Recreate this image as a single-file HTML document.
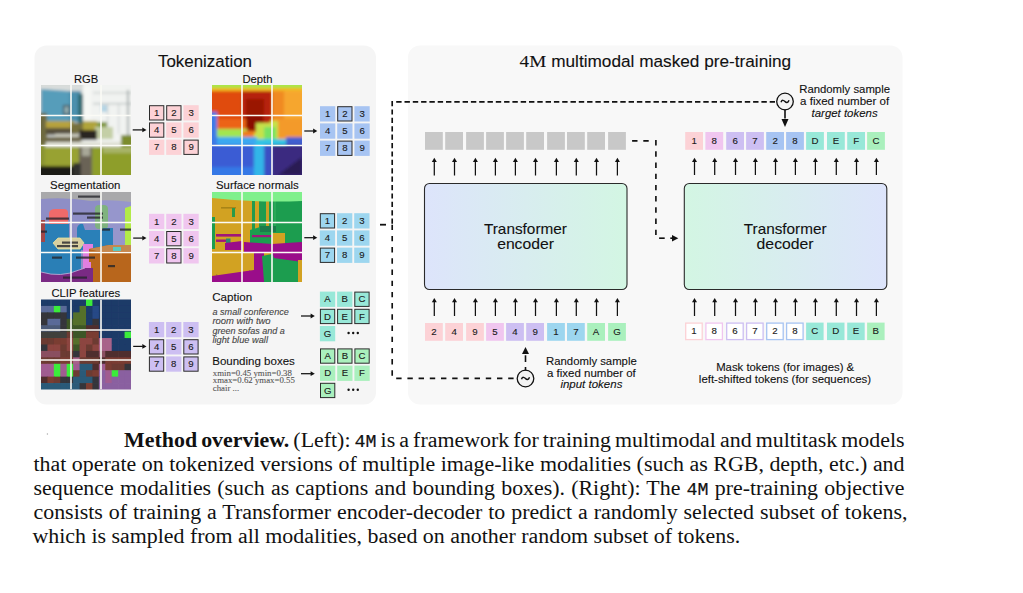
<!DOCTYPE html>
<html><head><meta charset="utf-8"><style>
html,body{margin:0;padding:0;background:#fff;width:1023px;height:593px;overflow:hidden}
svg{position:absolute;left:0;top:0}
svg text{font-family:"Liberation Sans", sans-serif}
.cl{position:absolute;left:33.5px;width:871px;height:24.0px;font-family:"Liberation Serif",serif;font-size:21.9px;line-height:24.0px;color:#111}
.j{text-align:justify;text-align-last:justify;word-spacing:-3px}
.mono{font-family:"Liberation Mono",monospace;font-size:18.3px;-webkit-text-stroke:0.2px #111}
</style></head><body>
<svg width="1023" height="593" viewBox="0 0 1023 593">
<defs>
<filter id="bl" x="-20%" y="-20%" width="140%" height="140%"><feGaussianBlur stdDeviation="1.4"/></filter>
<filter id="bl2" x="-20%" y="-20%" width="140%" height="140%"><feGaussianBlur stdDeviation="0.6"/></filter>
<linearGradient id="genc" x1="0" x2="1" y1="0" y2="0"><stop offset="0" stop-color="#dde4fb"/><stop offset="1" stop-color="#d3f6e3"/></linearGradient>
<linearGradient id="gdec" x1="0" x2="1" y1="0" y2="0"><stop offset="0" stop-color="#d3f6e3"/><stop offset="1" stop-color="#dde4fb"/></linearGradient>
<clipPath id="cimg"><rect x="0" y="0" width="90" height="90"/></clipPath>
</defs>

<rect x="34.5" y="45.5" width="341.5" height="359" rx="12" fill="#f5f5f5"/>
<rect x="408" y="45.5" width="494.5" height="359" rx="12" fill="#f8f8f8"/>
<circle cx="47.4" cy="434" r="0.7" fill="#aaa"/>
<text x="205" y="66.9" font-size="16.2" text-anchor="middle" fill="#111" textLength="94" lengthAdjust="spacingAndGlyphs" stroke="#111" stroke-width="0.1">Tokenization</text>
<text x="86.05" y="82.7" font-size="10.7" text-anchor="middle" fill="#111" textLength="24.3" lengthAdjust="spacingAndGlyphs" stroke="#111" stroke-width="0.1">RGB</text>
<text x="257.45" y="82.6" font-size="10.7" text-anchor="middle" fill="#111" textLength="30" lengthAdjust="spacingAndGlyphs" stroke="#111" stroke-width="0.1">Depth</text>
<text x="85.2" y="188.9" font-size="10.7" text-anchor="middle" fill="#111" textLength="70.3" lengthAdjust="spacingAndGlyphs" stroke="#111" stroke-width="0.1">Segmentation</text>
<text x="257.35" y="188.9" font-size="10.7" text-anchor="middle" fill="#111" textLength="82.6" lengthAdjust="spacingAndGlyphs" stroke="#111" stroke-width="0.1">Surface normals</text>
<text x="85.75" y="296.9" font-size="10.7" text-anchor="middle" fill="#111" textLength="68.7" lengthAdjust="spacingAndGlyphs" stroke="#111" stroke-width="0.1">CLIP features</text>
<text x="212.2" y="300.9" font-size="10.8" fill="#111" textLength="40" lengthAdjust="spacingAndGlyphs" stroke="#111" stroke-width="0.1">Caption</text>
<text x="212.2" y="365" font-size="10.8" fill="#111" textLength="82.7" lengthAdjust="spacingAndGlyphs" stroke="#111" stroke-width="0.1">Bounding boxes</text>
<text x="212.4" y="314.5" font-size="8.9" fill="#444" textLength="76.5" lengthAdjust="spacingAndGlyphs" font-style="italic" stroke="#444" stroke-width="0.1">a small conference</text>
<text x="212.4" y="324.1" font-size="8.9" fill="#444" textLength="58.2" lengthAdjust="spacingAndGlyphs" font-style="italic" stroke="#444" stroke-width="0.1">room with two</text>
<text x="212.4" y="333.7" font-size="8.9" fill="#444" textLength="72.5" lengthAdjust="spacingAndGlyphs" font-style="italic" stroke="#444" stroke-width="0.1">green sofas and a</text>
<text x="212.4" y="343.3" font-size="8.9" fill="#444" textLength="55.6" lengthAdjust="spacingAndGlyphs" font-style="italic" stroke="#444" stroke-width="0.1">light blue wall</text>
<text x="212.8" y="375.6" font-size="8.8" fill="#555" style="font-family:'Liberation Serif',serif" stroke="#555" stroke-width="0.1">xmin=0.45 ymin=0.38</text>
<text x="212.8" y="383.2" font-size="8.8" fill="#555" style="font-family:'Liberation Serif',serif" stroke="#555" stroke-width="0.1">xmax=0.62 ymax=0.55</text>
<text x="212.8" y="390.8" font-size="8.8" fill="#555" style="font-family:'Liberation Serif',serif" stroke="#555" stroke-width="0.1">chair ...</text>
<svg x="41" y="85" width="90" height="90" viewBox="0 0 90 90" overflow="hidden"><g filter="url(#bl)">
<rect x="-6.00" y="-6.00" width="102.00" height="102.00" fill="#d3d7d4"/>
<path d="M0,0 H90 V6 H40 L0,4 Z" fill="#d9dddc"/>
<path d="M0,4 L40,7 V37 H0 Z" fill="#579dba"/>
<rect x="28.00" y="6.00" width="12.00" height="31.00" fill="#4b90ad"/>
<rect x="37.00" y="9.00" width="5.00" height="30.00" fill="#2f6a72"/>
<rect x="22.00" y="20.00" width="7.00" height="10.00" fill="#3e4e54"/>
<rect x="23.50" y="21.50" width="4.00" height="7.00" fill="#98b4b8"/>
<rect x="42.00" y="-6.00" width="54.00" height="63.00" fill="#f1f3f1"/>
<rect x="42.00" y="2.00" width="8.00" height="44.00" fill="#f6f7f4"/>
<rect x="52.00" y="7.00" width="44.00" height="1.50" fill="#cfd4d2"/>
<rect x="52.00" y="18.00" width="44.00" height="1.30" fill="#b9c0c0"/>
<rect x="66.00" y="19.00" width="1.20" height="30.00" fill="#ccd2d2"/>
<rect x="77.00" y="19.00" width="1.20" height="30.00" fill="#ccd2d2"/>
<rect x="86.00" y="5.00" width="1.80" height="52.00" fill="#a0a8a8"/>
<rect x="60.00" y="20.00" width="6.00" height="7.00" fill="#b4d4e4"/>
<rect x="-6.00" y="28.00" width="12.00" height="32.00" fill="#6e6a40"/>
<rect x="5.00" y="36.00" width="28.00" height="8.00" fill="#b6a23c"/>
<rect x="5.00" y="43.00" width="32.00" height="7.00" fill="#56503e"/>
<rect x="14.00" y="49.00" width="26.00" height="4.00" fill="#cfcfc2"/>
<rect x="30.00" y="38.00" width="14.00" height="10.00" fill="#76703e"/>
<rect x="42.00" y="36.00" width="14.00" height="9.00" fill="#b0a43a"/>
<rect x="56.00" y="37.00" width="10.00" height="7.00" fill="#80983a"/>
<rect x="54.00" y="42.00" width="18.00" height="12.00" fill="#c4cfa6"/>
<rect x="38.00" y="45.00" width="18.00" height="10.00" fill="#2c2622"/>
<rect x="6.00" y="52.00" width="34.00" height="6.00" fill="#6a6446"/>
<rect x="5.00" y="57.00" width="91.00" height="5.00" fill="#dedfd4"/>
<rect x="-6.00" y="62.00" width="46.00" height="19.00" fill="#98a232"/>
<rect x="-6.00" y="60.00" width="10.00" height="24.00" fill="#8a9430"/>
<rect x="80.00" y="50.00" width="16.00" height="12.00" fill="#7c8c2e"/>
<rect x="50.00" y="62.00" width="46.00" height="34.00" fill="#8e9e2c"/>
<rect x="62.00" y="62.00" width="34.00" height="6.00" fill="#a8b468"/>
<rect x="38.00" y="62.00" width="13.00" height="34.00" fill="#6a6456"/>
<rect x="41.00" y="62.00" width="8.00" height="9.00" fill="#a8a898"/>
<rect x="-6.00" y="81.00" width="44.00" height="15.00" fill="#1c1c19"/>
<rect x="32.00" y="78.00" width="8.00" height="18.00" fill="#33322d"/>
</g><g stroke="#fbfbf6" stroke-width="1.6"><line x1="30" y1="0" x2="30" y2="90"/><line x1="60" y1="0" x2="60" y2="90"/><line x1="0" y1="30.5" x2="90" y2="30.5"/><line x1="0" y1="60.5" x2="90" y2="60.5"/></g></svg>
<svg x="212" y="85" width="90" height="90" viewBox="0 0 90 90" overflow="hidden"><g filter="url(#bl)">
<rect x="-6.00" y="-6.00" width="102.00" height="102.00" fill="#e0500f"/>
<rect x="-6.00" y="-6.00" width="102.00" height="9.00" fill="#a8e64a"/>
<rect x="-6.00" y="3.00" width="102.00" height="3.00" fill="#f2b822"/>
<rect x="-6.00" y="6.00" width="36.00" height="40.00" fill="#e04c10"/>
<rect x="30.00" y="6.00" width="30.00" height="42.00" fill="#b6240a"/>
<rect x="34.00" y="14.00" width="18.00" height="34.00" fill="#9a1606"/>
<path d="M34,30 H50 V42 H44 V52 H38 V42 H34 Z" fill="#8a1005"/>
<rect x="60.00" y="6.00" width="36.00" height="40.00" fill="#f08a24"/>
<rect x="72.00" y="6.00" width="24.00" height="40.00" fill="#f6a62e"/>
<rect x="-6.00" y="34.00" width="40.00" height="12.00" fill="#ec6418"/>
<rect x="60.00" y="34.00" width="36.00" height="22.00" fill="#f39a2a"/>
<rect x="-6.00" y="27.00" width="11.00" height="34.00" fill="#3c7ae6"/>
<rect x="5.00" y="44.00" width="30.00" height="8.00" fill="#a2e650"/>
<rect x="30.00" y="46.00" width="16.00" height="7.00" fill="#f07a1a"/>
<path d="M44,38 H58 V36 H66 V56 H42 V48 H44 Z" fill="#c6e24a"/>
<rect x="52.00" y="42.00" width="12.00" height="14.00" fill="#78e262"/>
<rect x="5.00" y="52.00" width="40.00" height="8.00" fill="#3aa8f0"/>
<rect x="44.00" y="54.00" width="36.00" height="6.00" fill="#32c4e4"/>
<rect x="74.00" y="52.00" width="22.00" height="8.00" fill="#3f5fd0"/>
<rect x="-6.00" y="60.00" width="50.00" height="36.00" fill="#3a5cd4"/>
<rect x="-6.00" y="82.00" width="50.00" height="14.00" fill="#3478e6"/>
<rect x="42.00" y="60.00" width="12.00" height="36.00" fill="#30b6e8"/>
<rect x="52.00" y="60.00" width="10.00" height="36.00" fill="#3a50c4"/>
<rect x="60.00" y="60.00" width="36.00" height="36.00" fill="#3a2c80"/>
<path d="M66,90 L90,72 V90 Z" fill="#2a1a52"/>
</g><g stroke="#fbfbf6" stroke-width="1.6"><line x1="30" y1="0" x2="30" y2="90"/><line x1="60" y1="0" x2="60" y2="90"/><line x1="0" y1="30.5" x2="90" y2="30.5"/><line x1="0" y1="60.5" x2="90" y2="60.5"/></g></svg>
<svg x="41" y="192" width="90" height="90" viewBox="0 0 90 90" overflow="hidden"><g filter="url(#bl2)">
<rect x="-6.00" y="-6.00" width="102.00" height="102.00" fill="#8e8ec6"/>
<rect x="60.00" y="8.00" width="36.00" height="50.00" fill="#9696cc"/>
<path d="M0,0 H90 V10 Q70,7 50,9 Q25,5 0,7 Z" fill="#a9a9ab"/>
<path d="M8,21 Q9,17 14,17 H23 Q27,17 27,21 V33 H8 Z" fill="#ef6a6a"/>
<rect x="54.00" y="13.00" width="13.00" height="24.00" rx="4" fill="#7fb27f"/>
<path d="M84,16 L90,14 V56 H84 Z" fill="#b2ea4a"/>
<path d="M0,32 H28 V46 H40 V85 H0 Z" fill="#2b7fb6"/>
<path d="M36,36 Q38,31 42,32 L44,38 H62 V36 H72 V58 H36 Z" fill="#2b80b8"/>
<rect x="-6.00" y="28.00" width="10.00" height="22.00" fill="#a24646"/>
<path d="M12,51 L17,46 H39 L43,51 L39,57 H17 Z" fill="#d8cfa0" stroke="#e8e29a" stroke-width="0.8"/>
<path d="M42,52 H52 V60 H50 V76 H42 Z" fill="#e07fe0"/>
<path d="M48,57 L68,53 H90 V90 H50 V70 H48 Z" fill="#b8661c"/>
<path d="M48,57 L68,53 H90 V59 H56 Z" fill="#c48850"/>
<rect x="72.00" y="55.00" width="8.00" height="4.00" fill="#5ac8c0"/>
<path d="M0,80 Q20,86 38,78 L44,76 H52 V90 H0 Z" fill="#7a2a84"/>
<path d="M0,80 Q20,86 38,78 L44,76" fill="none" stroke="#c8b0d8" stroke-width="0.8"/>
<g fill="#26262c" opacity="0.8">
<rect x="37.00" y="3.50" width="22.00" height="2.20"/>
<rect x="5.00" y="25.50" width="23.00" height="2.20"/>
<rect x="32.00" y="20.50" width="30.00" height="2.20"/>
<rect x="46.00" y="24.50" width="16.00" height="2.20"/>
<rect x="-6.00" y="38.50" width="12.00" height="2.20"/>
<rect x="61.00" y="36.50" width="8.00" height="2.20"/>
<rect x="79.00" y="36.50" width="17.00" height="2.20"/>
<rect x="21.00" y="49.50" width="16.00" height="2.20"/>
<rect x="16.00" y="53.00" width="21.00" height="2.20"/>
<rect x="11.00" y="64.50" width="10.00" height="2.20"/>
<rect x="35.00" y="64.50" width="19.00" height="2.20"/>
<rect x="67.00" y="73.00" width="7.00" height="2.20"/>
<rect x="22.00" y="84.50" width="24.00" height="2.20"/>
</g>
</g><g stroke="#fbfbf6" stroke-width="1.6"><line x1="30" y1="0" x2="30" y2="90"/><line x1="60" y1="0" x2="60" y2="90"/><line x1="0" y1="30.5" x2="90" y2="30.5"/><line x1="0" y1="60.5" x2="90" y2="60.5"/></g></svg>
<svg x="212" y="192" width="90" height="90" viewBox="0 0 90 90" overflow="hidden"><g filter="url(#bl2)">
<rect x="-6.00" y="-6.00" width="102.00" height="102.00" fill="#d2a222"/>
<path d="M50,8 H90 V56 H50 Z" fill="#1f9d4f"/>
<rect x="40.00" y="8.00" width="3.00" height="34.00" fill="#239a50"/>
<rect x="47.00" y="8.00" width="4.00" height="36.00" fill="#239a50"/>
<rect x="54.00" y="9.00" width="3.00" height="30.00" fill="#c9a026"/>
<rect x="62.00" y="9.00" width="2.00" height="30.00" fill="#2aa858"/>
<path d="M0,0 H90 V9 Q45,11 0,6 Z" fill="#80f08c"/>
<rect x="9.00" y="15.00" width="15.00" height="1.60" fill="#a88418"/>
<rect x="20.00" y="16.00" width="3.00" height="9.00" fill="#2a9a48"/>
<rect x="-6.00" y="25.00" width="9.00" height="32.00" fill="#1f9d4f"/>
<rect x="4.00" y="42.00" width="25.00" height="2.60" fill="#a0147a"/>
<rect x="4.00" y="47.50" width="12.00" height="2.40" fill="#a0147a"/>
<rect x="14.00" y="46.50" width="4.50" height="4.50" fill="#2a8a70"/>
<path d="M13,51 L30,49 V58 H13 Z" fill="#9a0a8a"/>
<path d="M38,38 L48,35 H60 V52 H38 Z" fill="#1f9d4f"/>
<rect x="48.00" y="34.00" width="16.00" height="6.00" fill="#1c7a4c"/>
<rect x="40.00" y="43.00" width="20.00" height="2.20" fill="#a0147a"/>
<rect x="60.00" y="41.00" width="13.00" height="14.00" fill="#d2a222"/>
<path d="M32,50 L60,52 L90,50 V60 H32 Z" fill="#9a0a8a"/>
<rect x="2.00" y="60.00" width="40.00" height="22.00" fill="#d2a222"/>
<rect x="4.00" y="82.00" width="1.30" height="6.00" fill="#b08a20"/>
<rect x="37.00" y="78.00" width="1.30" height="6.00" fill="#b08a20"/>
<path d="M0,84 L42,78 V60 H52 V90 H0 Z" fill="#9a0a8a"/>
<path d="M50,64 L60,62 H88 V90 H52 Z" fill="#1f9d4f"/>
<path d="M60,60 H90 V70 L62,66 Z" fill="#9a0a8a"/>
<rect x="86.00" y="68.00" width="10.00" height="28.00" fill="#d2a222"/>
</g><g stroke="#fbfbf6" stroke-width="1.6"><line x1="30" y1="0" x2="30" y2="90"/><line x1="60" y1="0" x2="60" y2="90"/><line x1="0" y1="30.5" x2="90" y2="30.5"/><line x1="0" y1="60.5" x2="90" y2="60.5"/></g></svg>
<svg x="41" y="299.5" width="90" height="90" viewBox="0 0 90 90" overflow="hidden"><g filter="url(#bl2)"><rect x="-6.00" y="-6.00" width="13.13" height="13.13" fill="#1c3a68"/><rect x="6.43" y="-6.00" width="7.13" height="13.13" fill="#1c3a68"/><rect x="12.86" y="-6.00" width="7.13" height="13.13" fill="#1c3a68"/><rect x="19.29" y="-6.00" width="7.13" height="13.13" fill="#1c3a68"/><rect x="25.71" y="-6.00" width="7.13" height="13.13" fill="#1c3a68"/><rect x="32.14" y="-6.00" width="7.13" height="13.13" fill="#1c3a68"/><rect x="38.57" y="-6.00" width="7.13" height="13.13" fill="#1c3a68"/><rect x="45.00" y="-6.00" width="7.13" height="13.13" fill="#3aec3a"/><rect x="51.43" y="-6.00" width="7.13" height="13.13" fill="#1c3a68"/><rect x="57.86" y="-6.00" width="7.13" height="13.13" fill="#1c3a68"/><rect x="64.29" y="-6.00" width="7.13" height="13.13" fill="#1c3a68"/><rect x="70.71" y="-6.00" width="7.13" height="13.13" fill="#1c3a68"/><rect x="77.14" y="-6.00" width="7.13" height="13.13" fill="#1c3a68"/><rect x="83.57" y="-6.00" width="13.13" height="13.13" fill="#1c3a68"/><rect x="-6.00" y="6.43" width="13.13" height="7.13" fill="#5a6a98"/><rect x="6.43" y="6.43" width="7.13" height="7.13" fill="#5a6a98"/><rect x="12.86" y="6.43" width="7.13" height="7.13" fill="#3aec3a"/><rect x="19.29" y="6.43" width="7.13" height="7.13" fill="#5a6a98"/><rect x="25.71" y="6.43" width="7.13" height="7.13" fill="#1c3a68"/><rect x="32.14" y="6.43" width="7.13" height="7.13" fill="#1c3a68"/><rect x="38.57" y="6.43" width="7.13" height="7.13" fill="#54702a"/><rect x="45.00" y="6.43" width="7.13" height="7.13" fill="#1c3a68"/><rect x="51.43" y="6.43" width="7.13" height="7.13" fill="#284886"/><rect x="57.86" y="6.43" width="7.13" height="7.13" fill="#1c3a68"/><rect x="64.29" y="6.43" width="7.13" height="7.13" fill="#1c3a68"/><rect x="70.71" y="6.43" width="7.13" height="7.13" fill="#1c3a68"/><rect x="77.14" y="6.43" width="7.13" height="7.13" fill="#1c3a68"/><rect x="83.57" y="6.43" width="13.13" height="7.13" fill="#1c3a68"/><rect x="-6.00" y="12.86" width="13.13" height="7.13" fill="#34363a"/><rect x="6.43" y="12.86" width="7.13" height="7.13" fill="#34363a"/><rect x="12.86" y="12.86" width="7.13" height="7.13" fill="#34363a"/><rect x="19.29" y="12.86" width="7.13" height="7.13" fill="#34363a"/><rect x="25.71" y="12.86" width="7.13" height="7.13" fill="#1c3a68"/><rect x="32.14" y="12.86" width="7.13" height="7.13" fill="#54702a"/><rect x="38.57" y="12.86" width="7.13" height="7.13" fill="#54702a"/><rect x="45.00" y="12.86" width="7.13" height="7.13" fill="#1c3a68"/><rect x="51.43" y="12.86" width="7.13" height="7.13" fill="#284886"/><rect x="57.86" y="12.86" width="7.13" height="7.13" fill="#1c3a68"/><rect x="64.29" y="12.86" width="7.13" height="7.13" fill="#1c3a68"/><rect x="70.71" y="12.86" width="7.13" height="7.13" fill="#1c3a68"/><rect x="77.14" y="12.86" width="7.13" height="7.13" fill="#1c3a68"/><rect x="83.57" y="12.86" width="13.13" height="7.13" fill="#1c3a68"/><rect x="-6.00" y="19.29" width="13.13" height="7.13" fill="#34363a"/><rect x="6.43" y="19.29" width="7.13" height="7.13" fill="#5a6a98"/><rect x="12.86" y="19.29" width="7.13" height="7.13" fill="#5a6a98"/><rect x="19.29" y="19.29" width="7.13" height="7.13" fill="#34363a"/><rect x="25.71" y="19.29" width="7.13" height="7.13" fill="#3c5628"/><rect x="32.14" y="19.29" width="7.13" height="7.13" fill="#54702a"/><rect x="38.57" y="19.29" width="7.13" height="7.13" fill="#54702a"/><rect x="45.00" y="19.29" width="7.13" height="7.13" fill="#1c3a68"/><rect x="51.43" y="19.29" width="7.13" height="7.13" fill="#34363a"/><rect x="57.86" y="19.29" width="7.13" height="7.13" fill="#1c3a68"/><rect x="64.29" y="19.29" width="7.13" height="7.13" fill="#1c3a68"/><rect x="70.71" y="19.29" width="7.13" height="7.13" fill="#1c3a68"/><rect x="77.14" y="19.29" width="7.13" height="7.13" fill="#1c3a68"/><rect x="83.57" y="19.29" width="13.13" height="7.13" fill="#1c3a68"/><rect x="-6.00" y="25.71" width="13.13" height="7.13" fill="#4c5a78"/><rect x="6.43" y="25.71" width="7.13" height="7.13" fill="#4c5a78"/><rect x="12.86" y="25.71" width="7.13" height="7.13" fill="#4c5a78"/><rect x="19.29" y="25.71" width="7.13" height="7.13" fill="#34363a"/><rect x="25.71" y="25.71" width="7.13" height="7.13" fill="#3c5628"/><rect x="32.14" y="25.71" width="7.13" height="7.13" fill="#3c5628"/><rect x="38.57" y="25.71" width="7.13" height="7.13" fill="#3c5628"/><rect x="45.00" y="25.71" width="7.13" height="7.13" fill="#502e2e"/><rect x="51.43" y="25.71" width="7.13" height="7.13" fill="#502e2e"/><rect x="57.86" y="25.71" width="7.13" height="7.13" fill="#1c3a68"/><rect x="64.29" y="25.71" width="7.13" height="7.13" fill="#1c3a68"/><rect x="70.71" y="25.71" width="7.13" height="7.13" fill="#1c3a68"/><rect x="77.14" y="25.71" width="7.13" height="7.13" fill="#1c3a68"/><rect x="83.57" y="25.71" width="13.13" height="7.13" fill="#1c3a68"/><rect x="-6.00" y="32.14" width="13.13" height="7.13" fill="#40403c"/><rect x="6.43" y="32.14" width="7.13" height="7.13" fill="#40403c"/><rect x="12.86" y="32.14" width="7.13" height="7.13" fill="#40403c"/><rect x="19.29" y="32.14" width="7.13" height="7.13" fill="#40403c"/><rect x="25.71" y="32.14" width="7.13" height="7.13" fill="#6c3a30"/><rect x="32.14" y="32.14" width="7.13" height="7.13" fill="#3c5628"/><rect x="38.57" y="32.14" width="7.13" height="7.13" fill="#3c5628"/><rect x="45.00" y="32.14" width="7.13" height="7.13" fill="#7a3c32"/><rect x="51.43" y="32.14" width="7.13" height="7.13" fill="#7a3c32"/><rect x="57.86" y="32.14" width="7.13" height="7.13" fill="#1c3a68"/><rect x="64.29" y="32.14" width="7.13" height="7.13" fill="#1c3a68"/><rect x="70.71" y="32.14" width="7.13" height="7.13" fill="#1c3a68"/><rect x="77.14" y="32.14" width="7.13" height="7.13" fill="#1c3a68"/><rect x="83.57" y="32.14" width="13.13" height="7.13" fill="#3aec3a"/><rect x="-6.00" y="38.57" width="13.13" height="7.13" fill="#6c3a30"/><rect x="6.43" y="38.57" width="7.13" height="7.13" fill="#6c3a30"/><rect x="12.86" y="38.57" width="7.13" height="7.13" fill="#7a3c32"/><rect x="19.29" y="38.57" width="7.13" height="7.13" fill="#7a3c32"/><rect x="25.71" y="38.57" width="7.13" height="7.13" fill="#8c4440"/><rect x="32.14" y="38.57" width="7.13" height="7.13" fill="#54702a"/><rect x="38.57" y="38.57" width="7.13" height="7.13" fill="#8c4440"/><rect x="45.00" y="38.57" width="7.13" height="7.13" fill="#8c4440"/><rect x="51.43" y="38.57" width="7.13" height="7.13" fill="#6c3a30"/><rect x="57.86" y="38.57" width="7.13" height="7.13" fill="#a8648a"/><rect x="64.29" y="38.57" width="7.13" height="7.13" fill="#a8648a"/><rect x="70.71" y="38.57" width="7.13" height="7.13" fill="#1c3a68"/><rect x="77.14" y="38.57" width="7.13" height="7.13" fill="#1c3a68"/><rect x="83.57" y="38.57" width="13.13" height="7.13" fill="#1c3a68"/><rect x="-6.00" y="45.00" width="13.13" height="7.13" fill="#34363a"/><rect x="6.43" y="45.00" width="7.13" height="7.13" fill="#8c4440"/><rect x="12.86" y="45.00" width="7.13" height="7.13" fill="#8c4440"/><rect x="19.29" y="45.00" width="7.13" height="7.13" fill="#6c3a30"/><rect x="25.71" y="45.00" width="7.13" height="7.13" fill="#8c4440"/><rect x="32.14" y="45.00" width="7.13" height="7.13" fill="#3c5628"/><rect x="38.57" y="45.00" width="7.13" height="7.13" fill="#8c4440"/><rect x="45.00" y="45.00" width="7.13" height="7.13" fill="#6c3a30"/><rect x="51.43" y="45.00" width="7.13" height="7.13" fill="#8c4440"/><rect x="57.86" y="45.00" width="7.13" height="7.13" fill="#a8648a"/><rect x="64.29" y="45.00" width="7.13" height="7.13" fill="#a8648a"/><rect x="70.71" y="45.00" width="7.13" height="7.13" fill="#1c3a68"/><rect x="77.14" y="45.00" width="7.13" height="7.13" fill="#1c3a68"/><rect x="83.57" y="45.00" width="13.13" height="7.13" fill="#1c3a68"/><rect x="-6.00" y="51.43" width="13.13" height="7.13" fill="#8a5060"/><rect x="6.43" y="51.43" width="7.13" height="7.13" fill="#8a5060"/><rect x="12.86" y="51.43" width="7.13" height="7.13" fill="#8a5060"/><rect x="19.29" y="51.43" width="7.13" height="7.13" fill="#6c3a30"/><rect x="25.71" y="51.43" width="7.13" height="7.13" fill="#6c3a30"/><rect x="32.14" y="51.43" width="7.13" height="7.13" fill="#34363a"/><rect x="38.57" y="51.43" width="7.13" height="7.13" fill="#8c4440"/><rect x="45.00" y="51.43" width="7.13" height="7.13" fill="#502e2e"/><rect x="51.43" y="51.43" width="7.13" height="7.13" fill="#502e2e"/><rect x="57.86" y="51.43" width="7.13" height="7.13" fill="#8a5060"/><rect x="64.29" y="51.43" width="7.13" height="7.13" fill="#502e2e"/><rect x="70.71" y="51.43" width="7.13" height="7.13" fill="#502e2e"/><rect x="77.14" y="51.43" width="7.13" height="7.13" fill="#502e2e"/><rect x="83.57" y="51.43" width="13.13" height="7.13" fill="#502e2e"/><rect x="-6.00" y="57.86" width="13.13" height="7.13" fill="#6c3a30"/><rect x="6.43" y="57.86" width="7.13" height="7.13" fill="#6c3a30"/><rect x="12.86" y="57.86" width="7.13" height="7.13" fill="#6c3a30"/><rect x="19.29" y="57.86" width="7.13" height="7.13" fill="#7a3c32"/><rect x="25.71" y="57.86" width="7.13" height="7.13" fill="#7a3c32"/><rect x="32.14" y="57.86" width="7.13" height="7.13" fill="#a8648a"/><rect x="38.57" y="57.86" width="7.13" height="7.13" fill="#6c3a30"/><rect x="45.00" y="57.86" width="7.13" height="7.13" fill="#6c3a30"/><rect x="51.43" y="57.86" width="7.13" height="7.13" fill="#6c3a30"/><rect x="57.86" y="57.86" width="7.13" height="7.13" fill="#502e2e"/><rect x="64.29" y="57.86" width="7.13" height="7.13" fill="#7a3c32"/><rect x="70.71" y="57.86" width="7.13" height="7.13" fill="#7a3c32"/><rect x="77.14" y="57.86" width="7.13" height="7.13" fill="#7a3c32"/><rect x="83.57" y="57.86" width="13.13" height="7.13" fill="#7a3c32"/><rect x="-6.00" y="64.29" width="13.13" height="7.13" fill="#a05c90"/><rect x="6.43" y="64.29" width="7.13" height="7.13" fill="#a05c90"/><rect x="12.86" y="64.29" width="7.13" height="7.13" fill="#3aec3a"/><rect x="19.29" y="64.29" width="7.13" height="7.13" fill="#a05c90"/><rect x="25.71" y="64.29" width="7.13" height="7.13" fill="#3aec3a"/><rect x="32.14" y="64.29" width="7.13" height="7.13" fill="#a05c90"/><rect x="38.57" y="64.29" width="7.13" height="7.13" fill="#2a5a78"/><rect x="45.00" y="64.29" width="7.13" height="7.13" fill="#2a5a78"/><rect x="51.43" y="64.29" width="7.13" height="7.13" fill="#502e2e"/><rect x="57.86" y="64.29" width="7.13" height="7.13" fill="#a05c90"/><rect x="64.29" y="64.29" width="7.13" height="7.13" fill="#7a3c32"/><rect x="70.71" y="64.29" width="7.13" height="7.13" fill="#6c3a30"/><rect x="77.14" y="64.29" width="7.13" height="7.13" fill="#6c3a30"/><rect x="83.57" y="64.29" width="13.13" height="7.13" fill="#34363a"/><rect x="-6.00" y="70.71" width="13.13" height="7.13" fill="#a05c90"/><rect x="6.43" y="70.71" width="7.13" height="7.13" fill="#a05c90"/><rect x="12.86" y="70.71" width="7.13" height="7.13" fill="#3aec3a"/><rect x="19.29" y="70.71" width="7.13" height="7.13" fill="#a05c90"/><rect x="25.71" y="70.71" width="7.13" height="7.13" fill="#3aec3a"/><rect x="32.14" y="70.71" width="7.13" height="7.13" fill="#6c3a30"/><rect x="38.57" y="70.71" width="7.13" height="7.13" fill="#2a5a78"/><rect x="45.00" y="70.71" width="7.13" height="7.13" fill="#6c3a30"/><rect x="51.43" y="70.71" width="7.13" height="7.13" fill="#7a3c32"/><rect x="57.86" y="70.71" width="7.13" height="7.13" fill="#8a60a0"/><rect x="64.29" y="70.71" width="7.13" height="7.13" fill="#a05c90"/><rect x="70.71" y="70.71" width="7.13" height="7.13" fill="#3aec3a"/><rect x="77.14" y="70.71" width="7.13" height="7.13" fill="#8a60a0"/><rect x="83.57" y="70.71" width="13.13" height="7.13" fill="#8a60a0"/><rect x="-6.00" y="77.14" width="13.13" height="7.13" fill="#502e2e"/><rect x="6.43" y="77.14" width="7.13" height="7.13" fill="#7a3c32"/><rect x="12.86" y="77.14" width="7.13" height="7.13" fill="#6c3a30"/><rect x="19.29" y="77.14" width="7.13" height="7.13" fill="#34363a"/><rect x="25.71" y="77.14" width="7.13" height="7.13" fill="#34363a"/><rect x="32.14" y="77.14" width="7.13" height="7.13" fill="#2a5a78"/><rect x="38.57" y="77.14" width="7.13" height="7.13" fill="#2a5a78"/><rect x="45.00" y="77.14" width="7.13" height="7.13" fill="#2a5a78"/><rect x="51.43" y="77.14" width="7.13" height="7.13" fill="#34363a"/><rect x="57.86" y="77.14" width="7.13" height="7.13" fill="#8a60a0"/><rect x="64.29" y="77.14" width="7.13" height="7.13" fill="#a05c90"/><rect x="70.71" y="77.14" width="7.13" height="7.13" fill="#8a60a0"/><rect x="77.14" y="77.14" width="7.13" height="7.13" fill="#8a60a0"/><rect x="83.57" y="77.14" width="13.13" height="7.13" fill="#8a60a0"/><rect x="-6.00" y="83.57" width="13.13" height="13.13" fill="#2a5a78"/><rect x="6.43" y="83.57" width="7.13" height="13.13" fill="#2a5a78"/><rect x="12.86" y="83.57" width="7.13" height="13.13" fill="#2a5a78"/><rect x="19.29" y="83.57" width="7.13" height="13.13" fill="#2a5a78"/><rect x="25.71" y="83.57" width="7.13" height="13.13" fill="#2a5a78"/><rect x="32.14" y="83.57" width="7.13" height="13.13" fill="#2a5a78"/><rect x="38.57" y="83.57" width="7.13" height="13.13" fill="#34363a"/><rect x="45.00" y="83.57" width="7.13" height="13.13" fill="#7a3c32"/><rect x="51.43" y="83.57" width="7.13" height="13.13" fill="#34363a"/><rect x="57.86" y="83.57" width="7.13" height="13.13" fill="#8a60a0"/><rect x="64.29" y="83.57" width="7.13" height="13.13" fill="#8a60a0"/><rect x="70.71" y="83.57" width="7.13" height="13.13" fill="#8a60a0"/><rect x="77.14" y="83.57" width="7.13" height="13.13" fill="#8a60a0"/><rect x="83.57" y="83.57" width="13.13" height="13.13" fill="#8a60a0"/></g><g stroke="#fbfbf6" stroke-width="1.6"><line x1="30" y1="0" x2="30" y2="90"/><line x1="60" y1="0" x2="60" y2="90"/><line x1="0" y1="30.5" x2="90" y2="30.5"/><line x1="0" y1="60.5" x2="90" y2="60.5"/></g></svg>
<rect x="149.50" y="105.70" width="14.30" height="14.30" fill="#fcd2d6" stroke="#2b2b2b" stroke-width="1"/><text x="156.65" y="115.92" font-size="9.6" text-anchor="middle" fill="#1a1a1a" stroke="#1a1a1a" stroke-width="0.12">1</text><rect x="166.70" y="105.70" width="14.30" height="14.30" fill="#fcd2d6" stroke="#2b2b2b" stroke-width="1"/><text x="173.85" y="115.92" font-size="9.6" text-anchor="middle" fill="#1a1a1a" stroke="#1a1a1a" stroke-width="0.12">2</text><rect x="183.40" y="105.20" width="15.30" height="15.30" fill="#fcd2d6"/><text x="191.05" y="115.92" font-size="9.6" text-anchor="middle" fill="#1a1a1a" stroke="#1a1a1a" stroke-width="0.12">3</text><rect x="149.50" y="122.90" width="14.30" height="14.30" fill="#fcd2d6" stroke="#2b2b2b" stroke-width="1"/><text x="156.65" y="133.12" font-size="9.6" text-anchor="middle" fill="#1a1a1a" stroke="#1a1a1a" stroke-width="0.12">4</text><rect x="166.20" y="122.40" width="15.30" height="15.30" fill="#fcd2d6"/><text x="173.85" y="133.12" font-size="9.6" text-anchor="middle" fill="#1a1a1a" stroke="#1a1a1a" stroke-width="0.12">5</text><rect x="183.40" y="122.40" width="15.30" height="15.30" fill="#fcd2d6"/><text x="191.05" y="133.12" font-size="9.6" text-anchor="middle" fill="#1a1a1a" stroke="#1a1a1a" stroke-width="0.12">6</text><rect x="149.00" y="139.60" width="15.30" height="15.30" fill="#fcd2d6"/><text x="156.65" y="150.32" font-size="9.6" text-anchor="middle" fill="#1a1a1a" stroke="#1a1a1a" stroke-width="0.12">7</text><rect x="166.20" y="139.60" width="15.30" height="15.30" fill="#fcd2d6"/><text x="173.85" y="150.32" font-size="9.6" text-anchor="middle" fill="#1a1a1a" stroke="#1a1a1a" stroke-width="0.12">8</text><rect x="183.90" y="140.10" width="14.30" height="14.30" fill="#fcd2d6" stroke="#2b2b2b" stroke-width="1"/><text x="191.05" y="150.32" font-size="9.6" text-anchor="middle" fill="#1a1a1a" stroke="#1a1a1a" stroke-width="0.12">9</text>
<rect x="320.00" y="106.20" width="15.30" height="15.30" fill="#a7c4f2"/><text x="327.65" y="116.92" font-size="9.6" text-anchor="middle" fill="#1a1a1a" stroke="#1a1a1a" stroke-width="0.12">1</text><rect x="337.70" y="106.70" width="14.30" height="14.30" fill="#a7c4f2" stroke="#2b2b2b" stroke-width="1"/><text x="344.85" y="116.92" font-size="9.6" text-anchor="middle" fill="#1a1a1a" stroke="#1a1a1a" stroke-width="0.12">2</text><rect x="354.40" y="106.20" width="15.30" height="15.30" fill="#a7c4f2"/><text x="362.05" y="116.92" font-size="9.6" text-anchor="middle" fill="#1a1a1a" stroke="#1a1a1a" stroke-width="0.12">3</text><rect x="320.00" y="123.40" width="15.30" height="15.30" fill="#a7c4f2"/><text x="327.65" y="134.12" font-size="9.6" text-anchor="middle" fill="#1a1a1a" stroke="#1a1a1a" stroke-width="0.12">4</text><rect x="337.20" y="123.40" width="15.30" height="15.30" fill="#a7c4f2"/><text x="344.85" y="134.12" font-size="9.6" text-anchor="middle" fill="#1a1a1a" stroke="#1a1a1a" stroke-width="0.12">5</text><rect x="354.40" y="123.40" width="15.30" height="15.30" fill="#a7c4f2"/><text x="362.05" y="134.12" font-size="9.6" text-anchor="middle" fill="#1a1a1a" stroke="#1a1a1a" stroke-width="0.12">6</text><rect x="320.00" y="140.60" width="15.30" height="15.30" fill="#a7c4f2"/><text x="327.65" y="151.32" font-size="9.6" text-anchor="middle" fill="#1a1a1a" stroke="#1a1a1a" stroke-width="0.12">7</text><rect x="337.70" y="141.10" width="14.30" height="14.30" fill="#a7c4f2" stroke="#2b2b2b" stroke-width="1"/><text x="344.85" y="151.32" font-size="9.6" text-anchor="middle" fill="#1a1a1a" stroke="#1a1a1a" stroke-width="0.12">8</text><rect x="354.40" y="140.60" width="15.30" height="15.30" fill="#a7c4f2"/><text x="362.05" y="151.32" font-size="9.6" text-anchor="middle" fill="#1a1a1a" stroke="#1a1a1a" stroke-width="0.12">9</text>
<rect x="149.00" y="213.80" width="15.30" height="15.30" fill="#f0c6ef"/><text x="156.65" y="224.52" font-size="9.6" text-anchor="middle" fill="#1a1a1a" stroke="#1a1a1a" stroke-width="0.12">1</text><rect x="166.20" y="213.80" width="15.30" height="15.30" fill="#f0c6ef"/><text x="173.85" y="224.52" font-size="9.6" text-anchor="middle" fill="#1a1a1a" stroke="#1a1a1a" stroke-width="0.12">2</text><rect x="183.40" y="213.80" width="15.30" height="15.30" fill="#f0c6ef"/><text x="191.05" y="224.52" font-size="9.6" text-anchor="middle" fill="#1a1a1a" stroke="#1a1a1a" stroke-width="0.12">3</text><rect x="149.00" y="231.00" width="15.30" height="15.30" fill="#f0c6ef"/><text x="156.65" y="241.72" font-size="9.6" text-anchor="middle" fill="#1a1a1a" stroke="#1a1a1a" stroke-width="0.12">4</text><rect x="166.70" y="231.50" width="14.30" height="14.30" fill="#f0c6ef" stroke="#2b2b2b" stroke-width="1"/><text x="173.85" y="241.72" font-size="9.6" text-anchor="middle" fill="#1a1a1a" stroke="#1a1a1a" stroke-width="0.12">5</text><rect x="183.40" y="231.00" width="15.30" height="15.30" fill="#f0c6ef"/><text x="191.05" y="241.72" font-size="9.6" text-anchor="middle" fill="#1a1a1a" stroke="#1a1a1a" stroke-width="0.12">6</text><rect x="149.00" y="248.20" width="15.30" height="15.30" fill="#f0c6ef"/><text x="156.65" y="258.92" font-size="9.6" text-anchor="middle" fill="#1a1a1a" stroke="#1a1a1a" stroke-width="0.12">7</text><rect x="166.70" y="248.70" width="14.30" height="14.30" fill="#f0c6ef" stroke="#2b2b2b" stroke-width="1"/><text x="173.85" y="258.92" font-size="9.6" text-anchor="middle" fill="#1a1a1a" stroke="#1a1a1a" stroke-width="0.12">8</text><rect x="183.40" y="248.20" width="15.30" height="15.30" fill="#f0c6ef"/><text x="191.05" y="258.92" font-size="9.6" text-anchor="middle" fill="#1a1a1a" stroke="#1a1a1a" stroke-width="0.12">9</text>
<rect x="320.30" y="213.70" width="14.30" height="14.30" fill="#9dd6ef" stroke="#2b2b2b" stroke-width="1"/><text x="327.45" y="223.92" font-size="9.6" text-anchor="middle" fill="#1a1a1a" stroke="#1a1a1a" stroke-width="0.12">1</text><rect x="337.00" y="213.20" width="15.30" height="15.30" fill="#9dd6ef"/><text x="344.65" y="223.92" font-size="9.6" text-anchor="middle" fill="#1a1a1a" stroke="#1a1a1a" stroke-width="0.12">2</text><rect x="354.20" y="213.20" width="15.30" height="15.30" fill="#9dd6ef"/><text x="361.85" y="223.92" font-size="9.6" text-anchor="middle" fill="#1a1a1a" stroke="#1a1a1a" stroke-width="0.12">3</text><rect x="319.80" y="230.40" width="15.30" height="15.30" fill="#9dd6ef"/><text x="327.45" y="241.12" font-size="9.6" text-anchor="middle" fill="#1a1a1a" stroke="#1a1a1a" stroke-width="0.12">4</text><rect x="337.00" y="230.40" width="15.30" height="15.30" fill="#9dd6ef"/><text x="344.65" y="241.12" font-size="9.6" text-anchor="middle" fill="#1a1a1a" stroke="#1a1a1a" stroke-width="0.12">5</text><rect x="354.20" y="230.40" width="15.30" height="15.30" fill="#9dd6ef"/><text x="361.85" y="241.12" font-size="9.6" text-anchor="middle" fill="#1a1a1a" stroke="#1a1a1a" stroke-width="0.12">6</text><rect x="320.30" y="248.10" width="14.30" height="14.30" fill="#9dd6ef" stroke="#2b2b2b" stroke-width="1"/><text x="327.45" y="258.32" font-size="9.6" text-anchor="middle" fill="#1a1a1a" stroke="#1a1a1a" stroke-width="0.12">7</text><rect x="337.00" y="247.60" width="15.30" height="15.30" fill="#9dd6ef"/><text x="344.65" y="258.32" font-size="9.6" text-anchor="middle" fill="#1a1a1a" stroke="#1a1a1a" stroke-width="0.12">8</text><rect x="354.20" y="247.60" width="15.30" height="15.30" fill="#9dd6ef"/><text x="361.85" y="258.32" font-size="9.6" text-anchor="middle" fill="#1a1a1a" stroke="#1a1a1a" stroke-width="0.12">9</text>
<rect x="148.90" y="322.00" width="15.30" height="15.30" fill="#cdbff2"/><text x="156.55" y="332.72" font-size="9.6" text-anchor="middle" fill="#1a1a1a" stroke="#1a1a1a" stroke-width="0.12">1</text><rect x="166.10" y="322.00" width="15.30" height="15.30" fill="#cdbff2"/><text x="173.75" y="332.72" font-size="9.6" text-anchor="middle" fill="#1a1a1a" stroke="#1a1a1a" stroke-width="0.12">2</text><rect x="183.30" y="322.00" width="15.30" height="15.30" fill="#cdbff2"/><text x="190.95" y="332.72" font-size="9.6" text-anchor="middle" fill="#1a1a1a" stroke="#1a1a1a" stroke-width="0.12">3</text><rect x="149.40" y="339.70" width="14.30" height="14.30" fill="#cdbff2" stroke="#2b2b2b" stroke-width="1"/><text x="156.55" y="349.92" font-size="9.6" text-anchor="middle" fill="#1a1a1a" stroke="#1a1a1a" stroke-width="0.12">4</text><rect x="166.10" y="339.20" width="15.30" height="15.30" fill="#cdbff2"/><text x="173.75" y="349.92" font-size="9.6" text-anchor="middle" fill="#1a1a1a" stroke="#1a1a1a" stroke-width="0.12">5</text><rect x="183.80" y="339.70" width="14.30" height="14.30" fill="#cdbff2" stroke="#2b2b2b" stroke-width="1"/><text x="190.95" y="349.92" font-size="9.6" text-anchor="middle" fill="#1a1a1a" stroke="#1a1a1a" stroke-width="0.12">6</text><rect x="149.40" y="356.90" width="14.30" height="14.30" fill="#cdbff2" stroke="#2b2b2b" stroke-width="1"/><text x="156.55" y="367.12" font-size="9.6" text-anchor="middle" fill="#1a1a1a" stroke="#1a1a1a" stroke-width="0.12">7</text><rect x="166.10" y="356.40" width="15.30" height="15.30" fill="#cdbff2"/><text x="173.75" y="367.12" font-size="9.6" text-anchor="middle" fill="#1a1a1a" stroke="#1a1a1a" stroke-width="0.12">8</text><rect x="183.80" y="356.90" width="14.30" height="14.30" fill="#cdbff2" stroke="#2b2b2b" stroke-width="1"/><text x="190.95" y="367.12" font-size="9.6" text-anchor="middle" fill="#1a1a1a" stroke="#1a1a1a" stroke-width="0.12">9</text>
<rect x="319.90" y="291.60" width="15.30" height="15.30" fill="#98e8d8"/><text x="327.55" y="302.32" font-size="9.6" text-anchor="middle" fill="#1a1a1a" stroke="#1a1a1a" stroke-width="0.12">A</text><rect x="337.10" y="291.60" width="15.30" height="15.30" fill="#98e8d8"/><text x="344.75" y="302.32" font-size="9.6" text-anchor="middle" fill="#1a1a1a" stroke="#1a1a1a" stroke-width="0.12">B</text><rect x="354.80" y="292.10" width="14.30" height="14.30" fill="#98e8d8" stroke="#2b2b2b" stroke-width="1"/><text x="361.95" y="302.32" font-size="9.6" text-anchor="middle" fill="#1a1a1a" stroke="#1a1a1a" stroke-width="0.12">C</text><rect x="320.40" y="309.30" width="14.30" height="14.30" fill="#98e8d8" stroke="#2b2b2b" stroke-width="1"/><text x="327.55" y="319.52" font-size="9.6" text-anchor="middle" fill="#1a1a1a" stroke="#1a1a1a" stroke-width="0.12">D</text><rect x="337.60" y="309.30" width="14.30" height="14.30" fill="#98e8d8" stroke="#2b2b2b" stroke-width="1"/><text x="344.75" y="319.52" font-size="9.6" text-anchor="middle" fill="#1a1a1a" stroke="#1a1a1a" stroke-width="0.12">E</text><rect x="354.80" y="309.30" width="14.30" height="14.30" fill="#98e8d8" stroke="#2b2b2b" stroke-width="1"/><text x="361.95" y="319.52" font-size="9.6" text-anchor="middle" fill="#1a1a1a" stroke="#1a1a1a" stroke-width="0.12">F</text><rect x="319.90" y="326.00" width="15.30" height="15.30" fill="#98e8d8"/><text x="327.55" y="336.72" font-size="9.6" text-anchor="middle" fill="#1a1a1a" stroke="#1a1a1a" stroke-width="0.12">G</text>
<rect x="320.50" y="348.90" width="14.30" height="14.30" fill="#aaf0bd" stroke="#2b2b2b" stroke-width="1"/><text x="327.65" y="359.12" font-size="9.6" text-anchor="middle" fill="#1a1a1a" stroke="#1a1a1a" stroke-width="0.12">A</text><rect x="337.70" y="348.90" width="14.30" height="14.30" fill="#aaf0bd" stroke="#2b2b2b" stroke-width="1"/><text x="344.85" y="359.12" font-size="9.6" text-anchor="middle" fill="#1a1a1a" stroke="#1a1a1a" stroke-width="0.12">B</text><rect x="354.90" y="348.90" width="14.30" height="14.30" fill="#aaf0bd" stroke="#2b2b2b" stroke-width="1"/><text x="362.05" y="359.12" font-size="9.6" text-anchor="middle" fill="#1a1a1a" stroke="#1a1a1a" stroke-width="0.12">C</text><rect x="320.00" y="365.60" width="15.30" height="15.30" fill="#aaf0bd"/><text x="327.65" y="376.32" font-size="9.6" text-anchor="middle" fill="#1a1a1a" stroke="#1a1a1a" stroke-width="0.12">D</text><rect x="337.20" y="365.60" width="15.30" height="15.30" fill="#aaf0bd"/><text x="344.85" y="376.32" font-size="9.6" text-anchor="middle" fill="#1a1a1a" stroke="#1a1a1a" stroke-width="0.12">E</text><rect x="354.40" y="365.60" width="15.30" height="15.30" fill="#aaf0bd"/><text x="362.05" y="376.32" font-size="9.6" text-anchor="middle" fill="#1a1a1a" stroke="#1a1a1a" stroke-width="0.12">F</text><rect x="320.50" y="383.30" width="14.30" height="14.30" fill="#aaf0bd" stroke="#2b2b2b" stroke-width="1"/><text x="327.65" y="393.52" font-size="9.6" text-anchor="middle" fill="#1a1a1a" stroke="#1a1a1a" stroke-width="0.12">G</text>
<circle cx="348.6" cy="333.0" r="1.2" fill="#111"/>
<circle cx="353.2" cy="333.0" r="1.2" fill="#111"/>
<circle cx="357.8" cy="333.0" r="1.2" fill="#111"/>
<circle cx="348.6" cy="389.8" r="1.2" fill="#111"/>
<circle cx="353.2" cy="389.8" r="1.2" fill="#111"/>
<circle cx="357.8" cy="389.8" r="1.2" fill="#111"/>
<line x1="132.7" y1="129.9" x2="142.8" y2="129.9" stroke="#111" stroke-width="1.25"/><path d="M146.5,129.9 L142.3,127.5 L142.3,132.3 Z" fill="#111"/>
<line x1="304.3" y1="131.0" x2="313.6" y2="131.0" stroke="#111" stroke-width="1.25"/><path d="M317.3,131.0 L313.1,128.6 L313.1,133.4 Z" fill="#111"/>
<line x1="133.2" y1="238.1" x2="142.8" y2="238.1" stroke="#111" stroke-width="1.25"/><path d="M146.5,238.1 L142.3,235.7 L142.3,240.5 Z" fill="#111"/>
<line x1="304.3" y1="237.7" x2="313.6" y2="237.7" stroke="#111" stroke-width="1.25"/><path d="M317.3,237.7 L313.1,235.29999999999998 L313.1,240.1 Z" fill="#111"/>
<line x1="133.2" y1="346.4" x2="142.8" y2="346.4" stroke="#111" stroke-width="1.25"/><path d="M146.5,346.4 L142.3,344.0 L142.3,348.79999999999995 Z" fill="#111"/>
<line x1="301.0" y1="316.0" x2="311.1" y2="316.0" stroke="#111" stroke-width="1.25"/><path d="M314.8,316.0 L310.6,313.6 L310.6,318.4 Z" fill="#111"/>
<line x1="301.0" y1="373.7" x2="311.1" y2="373.7" stroke="#111" stroke-width="1.25"/><path d="M314.8,373.7 L310.6,371.3 L310.6,376.09999999999997 Z" fill="#111"/>
<text x="519.6" y="66.8" font-size="16.6" fill="#111" style="font-family:'Liberation Serif',serif" textLength="26.6" lengthAdjust="spacingAndGlyphs" stroke="#111" stroke-width="0.1">4M</text>
<text x="551.2" y="66.8" font-size="16.4" fill="#111" textLength="240" lengthAdjust="spacingAndGlyphs" stroke="#111" stroke-width="0.1">multimodal masked pre-training</text>
<rect x="425.00" y="132.00" width="17.80" height="17.80" fill="#c8c8c8"/>
<rect x="445.20" y="132.00" width="17.80" height="17.80" fill="#c8c8c8"/>
<rect x="466.10" y="132.00" width="17.80" height="17.80" fill="#c8c8c8"/>
<rect x="486.10" y="132.00" width="17.80" height="17.80" fill="#c8c8c8"/>
<rect x="506.10" y="132.00" width="17.80" height="17.80" fill="#c8c8c8"/>
<rect x="526.20" y="132.00" width="17.80" height="17.80" fill="#c8c8c8"/>
<rect x="547.10" y="132.00" width="17.80" height="17.80" fill="#c8c8c8"/>
<rect x="567.00" y="132.00" width="17.80" height="17.80" fill="#c8c8c8"/>
<rect x="587.20" y="132.00" width="17.80" height="17.80" fill="#c8c8c8"/>
<rect x="608.10" y="132.00" width="17.80" height="17.80" fill="#c8c8c8"/>
<line x1="434.3" y1="175.5" x2="434.3" y2="161.5" stroke="#111" stroke-width="1.25"/><path d="M434.3,157.7 L431.8,162.0 L436.8,162.0 Z" fill="#111"/>
<line x1="434.3" y1="316.0" x2="434.3" y2="301.8" stroke="#111" stroke-width="1.25"/><path d="M434.3,298.0 L431.8,302.3 L436.8,302.3 Z" fill="#111"/>
<line x1="454.5" y1="175.5" x2="454.5" y2="161.5" stroke="#111" stroke-width="1.25"/><path d="M454.5,157.7 L452.0,162.0 L457.0,162.0 Z" fill="#111"/>
<line x1="454.5" y1="316.0" x2="454.5" y2="301.8" stroke="#111" stroke-width="1.25"/><path d="M454.5,298.0 L452.0,302.3 L457.0,302.3 Z" fill="#111"/>
<line x1="475.40000000000003" y1="175.5" x2="475.40000000000003" y2="161.5" stroke="#111" stroke-width="1.25"/><path d="M475.40000000000003,157.7 L472.90000000000003,162.0 L477.90000000000003,162.0 Z" fill="#111"/>
<line x1="475.40000000000003" y1="316.0" x2="475.40000000000003" y2="301.8" stroke="#111" stroke-width="1.25"/><path d="M475.40000000000003,298.0 L472.90000000000003,302.3 L477.90000000000003,302.3 Z" fill="#111"/>
<line x1="495.40000000000003" y1="175.5" x2="495.40000000000003" y2="161.5" stroke="#111" stroke-width="1.25"/><path d="M495.40000000000003,157.7 L492.90000000000003,162.0 L497.90000000000003,162.0 Z" fill="#111"/>
<line x1="495.40000000000003" y1="316.0" x2="495.40000000000003" y2="301.8" stroke="#111" stroke-width="1.25"/><path d="M495.40000000000003,298.0 L492.90000000000003,302.3 L497.90000000000003,302.3 Z" fill="#111"/>
<line x1="515.4" y1="175.5" x2="515.4" y2="161.5" stroke="#111" stroke-width="1.25"/><path d="M515.4,157.7 L512.9,162.0 L517.9,162.0 Z" fill="#111"/>
<line x1="515.4" y1="316.0" x2="515.4" y2="301.8" stroke="#111" stroke-width="1.25"/><path d="M515.4,298.0 L512.9,302.3 L517.9,302.3 Z" fill="#111"/>
<line x1="535.5" y1="175.5" x2="535.5" y2="161.5" stroke="#111" stroke-width="1.25"/><path d="M535.5,157.7 L533.0,162.0 L538.0,162.0 Z" fill="#111"/>
<line x1="535.5" y1="316.0" x2="535.5" y2="301.8" stroke="#111" stroke-width="1.25"/><path d="M535.5,298.0 L533.0,302.3 L538.0,302.3 Z" fill="#111"/>
<line x1="556.4" y1="175.5" x2="556.4" y2="161.5" stroke="#111" stroke-width="1.25"/><path d="M556.4,157.7 L553.9,162.0 L558.9,162.0 Z" fill="#111"/>
<line x1="556.4" y1="316.0" x2="556.4" y2="301.8" stroke="#111" stroke-width="1.25"/><path d="M556.4,298.0 L553.9,302.3 L558.9,302.3 Z" fill="#111"/>
<line x1="576.3" y1="175.5" x2="576.3" y2="161.5" stroke="#111" stroke-width="1.25"/><path d="M576.3,157.7 L573.8,162.0 L578.8,162.0 Z" fill="#111"/>
<line x1="576.3" y1="316.0" x2="576.3" y2="301.8" stroke="#111" stroke-width="1.25"/><path d="M576.3,298.0 L573.8,302.3 L578.8,302.3 Z" fill="#111"/>
<line x1="596.5" y1="175.5" x2="596.5" y2="161.5" stroke="#111" stroke-width="1.25"/><path d="M596.5,157.7 L594.0,162.0 L599.0,162.0 Z" fill="#111"/>
<line x1="596.5" y1="316.0" x2="596.5" y2="301.8" stroke="#111" stroke-width="1.25"/><path d="M596.5,298.0 L594.0,302.3 L599.0,302.3 Z" fill="#111"/>
<line x1="617.4" y1="175.5" x2="617.4" y2="161.5" stroke="#111" stroke-width="1.25"/><path d="M617.4,157.7 L614.9,162.0 L619.9,162.0 Z" fill="#111"/>
<line x1="617.4" y1="316.0" x2="617.4" y2="301.8" stroke="#111" stroke-width="1.25"/><path d="M617.4,298.0 L614.9,302.3 L619.9,302.3 Z" fill="#111"/>
<rect x="424.5" y="183.5" width="202.5" height="106" rx="5" fill="url(#genc)" stroke="#2a2a2a" stroke-width="1.1"/>
<text x="525.45" y="233.6" font-size="15.0" text-anchor="middle" fill="#111" textLength="83" lengthAdjust="spacingAndGlyphs" stroke="#111" stroke-width="0.1">Transformer</text>
<text x="525.55" y="249.4" font-size="15.0" text-anchor="middle" fill="#111" textLength="56.8" lengthAdjust="spacingAndGlyphs" stroke="#111" stroke-width="0.1">encoder</text>
<rect x="425.00" y="323.00" width="17.80" height="17.80" fill="#fcd2d6"/><text x="433.90" y="335.00" font-size="9.7" text-anchor="middle" fill="#1a1a1a" stroke="#1a1a1a" stroke-width="0.12">2</text>
<rect x="445.20" y="323.00" width="17.80" height="17.80" fill="#fcd2d6"/><text x="454.10" y="335.00" font-size="9.7" text-anchor="middle" fill="#1a1a1a" stroke="#1a1a1a" stroke-width="0.12">4</text>
<rect x="466.10" y="323.00" width="17.80" height="17.80" fill="#fcd2d6"/><text x="475.00" y="335.00" font-size="9.7" text-anchor="middle" fill="#1a1a1a" stroke="#1a1a1a" stroke-width="0.12">9</text>
<rect x="486.10" y="323.00" width="17.80" height="17.80" fill="#f0c6ef"/><text x="495.00" y="335.00" font-size="9.7" text-anchor="middle" fill="#1a1a1a" stroke="#1a1a1a" stroke-width="0.12">5</text>
<rect x="506.10" y="323.00" width="17.80" height="17.80" fill="#cdbff2"/><text x="515.00" y="335.00" font-size="9.7" text-anchor="middle" fill="#1a1a1a" stroke="#1a1a1a" stroke-width="0.12">4</text>
<rect x="526.20" y="323.00" width="17.80" height="17.80" fill="#cdbff2"/><text x="535.10" y="335.00" font-size="9.7" text-anchor="middle" fill="#1a1a1a" stroke="#1a1a1a" stroke-width="0.12">9</text>
<rect x="547.10" y="323.00" width="17.80" height="17.80" fill="#9dd6ef"/><text x="556.00" y="335.00" font-size="9.7" text-anchor="middle" fill="#1a1a1a" stroke="#1a1a1a" stroke-width="0.12">1</text>
<rect x="567.00" y="323.00" width="17.80" height="17.80" fill="#9dd6ef"/><text x="575.90" y="335.00" font-size="9.7" text-anchor="middle" fill="#1a1a1a" stroke="#1a1a1a" stroke-width="0.12">7</text>
<rect x="587.20" y="323.00" width="17.80" height="17.80" fill="#aaf0bd"/><text x="596.10" y="335.00" font-size="9.7" text-anchor="middle" fill="#1a1a1a" stroke="#1a1a1a" stroke-width="0.12">A</text>
<rect x="608.10" y="323.00" width="17.80" height="17.80" fill="#aaf0bd"/><text x="617.00" y="335.00" font-size="9.7" text-anchor="middle" fill="#1a1a1a" stroke="#1a1a1a" stroke-width="0.12">G</text>
<rect x="684.3" y="183.5" width="202.5" height="106" rx="5" fill="url(#gdec)" stroke="#2a2a2a" stroke-width="1.1"/>
<text x="785.15" y="233.8" font-size="15.0" text-anchor="middle" fill="#111" textLength="82.8" lengthAdjust="spacingAndGlyphs" stroke="#111" stroke-width="0.1">Transformer</text>
<text x="785.1" y="249.3" font-size="15.0" text-anchor="middle" fill="#111" textLength="57" lengthAdjust="spacingAndGlyphs" stroke="#111" stroke-width="0.1">decoder</text>
<rect x="685.20" y="132.00" width="17.80" height="17.80" fill="#fcd2d6"/><text x="694.10" y="144.00" font-size="9.7" text-anchor="middle" fill="#1a1a1a" stroke="#1a1a1a" stroke-width="0.12">1</text>
<rect x="705.40" y="132.00" width="17.80" height="17.80" fill="#f0c6ef"/><text x="714.30" y="144.00" font-size="9.7" text-anchor="middle" fill="#1a1a1a" stroke="#1a1a1a" stroke-width="0.12">8</text>
<rect x="726.20" y="132.00" width="17.80" height="17.80" fill="#cdbff2"/><text x="735.10" y="144.00" font-size="9.7" text-anchor="middle" fill="#1a1a1a" stroke="#1a1a1a" stroke-width="0.12">6</text>
<rect x="746.10" y="132.00" width="17.80" height="17.80" fill="#cdbff2"/><text x="755.00" y="144.00" font-size="9.7" text-anchor="middle" fill="#1a1a1a" stroke="#1a1a1a" stroke-width="0.12">7</text>
<rect x="766.20" y="132.00" width="17.80" height="17.80" fill="#a7c4f2"/><text x="775.10" y="144.00" font-size="9.7" text-anchor="middle" fill="#1a1a1a" stroke="#1a1a1a" stroke-width="0.12">2</text>
<rect x="786.10" y="132.00" width="17.80" height="17.80" fill="#a7c4f2"/><text x="795.00" y="144.00" font-size="9.7" text-anchor="middle" fill="#1a1a1a" stroke="#1a1a1a" stroke-width="0.12">8</text>
<rect x="806.10" y="132.00" width="17.80" height="17.80" fill="#98e8d8"/><text x="815.00" y="144.00" font-size="9.7" text-anchor="middle" fill="#1a1a1a" stroke="#1a1a1a" stroke-width="0.12">D</text>
<rect x="827.00" y="132.00" width="17.80" height="17.80" fill="#98e8d8"/><text x="835.90" y="144.00" font-size="9.7" text-anchor="middle" fill="#1a1a1a" stroke="#1a1a1a" stroke-width="0.12">E</text>
<rect x="847.20" y="132.00" width="17.80" height="17.80" fill="#98e8d8"/><text x="856.10" y="144.00" font-size="9.7" text-anchor="middle" fill="#1a1a1a" stroke="#1a1a1a" stroke-width="0.12">F</text>
<rect x="867.10" y="132.00" width="17.80" height="17.80" fill="#aaf0bd"/><text x="876.00" y="144.00" font-size="9.7" text-anchor="middle" fill="#1a1a1a" stroke="#1a1a1a" stroke-width="0.12">C</text>
<line x1="694.5" y1="175.0" x2="694.5" y2="161.5" stroke="#111" stroke-width="1.25"/><path d="M694.5,157.7 L692.0,162.0 L697.0,162.0 Z" fill="#111"/>
<line x1="694.5" y1="316.0" x2="694.5" y2="301.8" stroke="#111" stroke-width="1.25"/><path d="M694.5,298.0 L692.0,302.3 L697.0,302.3 Z" fill="#111"/>
<line x1="714.6999999999999" y1="175.0" x2="714.6999999999999" y2="161.5" stroke="#111" stroke-width="1.25"/><path d="M714.6999999999999,157.7 L712.1999999999999,162.0 L717.1999999999999,162.0 Z" fill="#111"/>
<line x1="714.6999999999999" y1="316.0" x2="714.6999999999999" y2="301.8" stroke="#111" stroke-width="1.25"/><path d="M714.6999999999999,298.0 L712.1999999999999,302.3 L717.1999999999999,302.3 Z" fill="#111"/>
<line x1="735.5" y1="175.0" x2="735.5" y2="161.5" stroke="#111" stroke-width="1.25"/><path d="M735.5,157.7 L733.0,162.0 L738.0,162.0 Z" fill="#111"/>
<line x1="735.5" y1="316.0" x2="735.5" y2="301.8" stroke="#111" stroke-width="1.25"/><path d="M735.5,298.0 L733.0,302.3 L738.0,302.3 Z" fill="#111"/>
<line x1="755.4" y1="175.0" x2="755.4" y2="161.5" stroke="#111" stroke-width="1.25"/><path d="M755.4,157.7 L752.9,162.0 L757.9,162.0 Z" fill="#111"/>
<line x1="755.4" y1="316.0" x2="755.4" y2="301.8" stroke="#111" stroke-width="1.25"/><path d="M755.4,298.0 L752.9,302.3 L757.9,302.3 Z" fill="#111"/>
<line x1="775.5" y1="175.0" x2="775.5" y2="161.5" stroke="#111" stroke-width="1.25"/><path d="M775.5,157.7 L773.0,162.0 L778.0,162.0 Z" fill="#111"/>
<line x1="775.5" y1="316.0" x2="775.5" y2="301.8" stroke="#111" stroke-width="1.25"/><path d="M775.5,298.0 L773.0,302.3 L778.0,302.3 Z" fill="#111"/>
<line x1="795.4" y1="175.0" x2="795.4" y2="161.5" stroke="#111" stroke-width="1.25"/><path d="M795.4,157.7 L792.9,162.0 L797.9,162.0 Z" fill="#111"/>
<line x1="795.4" y1="316.0" x2="795.4" y2="301.8" stroke="#111" stroke-width="1.25"/><path d="M795.4,298.0 L792.9,302.3 L797.9,302.3 Z" fill="#111"/>
<line x1="815.4" y1="175.0" x2="815.4" y2="161.5" stroke="#111" stroke-width="1.25"/><path d="M815.4,157.7 L812.9,162.0 L817.9,162.0 Z" fill="#111"/>
<line x1="815.4" y1="316.0" x2="815.4" y2="301.8" stroke="#111" stroke-width="1.25"/><path d="M815.4,298.0 L812.9,302.3 L817.9,302.3 Z" fill="#111"/>
<line x1="836.3" y1="175.0" x2="836.3" y2="161.5" stroke="#111" stroke-width="1.25"/><path d="M836.3,157.7 L833.8,162.0 L838.8,162.0 Z" fill="#111"/>
<line x1="836.3" y1="316.0" x2="836.3" y2="301.8" stroke="#111" stroke-width="1.25"/><path d="M836.3,298.0 L833.8,302.3 L838.8,302.3 Z" fill="#111"/>
<line x1="856.5" y1="175.0" x2="856.5" y2="161.5" stroke="#111" stroke-width="1.25"/><path d="M856.5,157.7 L854.0,162.0 L859.0,162.0 Z" fill="#111"/>
<line x1="856.5" y1="316.0" x2="856.5" y2="301.8" stroke="#111" stroke-width="1.25"/><path d="M856.5,298.0 L854.0,302.3 L859.0,302.3 Z" fill="#111"/>
<line x1="876.4" y1="175.0" x2="876.4" y2="161.5" stroke="#111" stroke-width="1.25"/><path d="M876.4,157.7 L873.9,162.0 L878.9,162.0 Z" fill="#111"/>
<line x1="876.4" y1="316.0" x2="876.4" y2="301.8" stroke="#111" stroke-width="1.25"/><path d="M876.4,298.0 L873.9,302.3 L878.9,302.3 Z" fill="#111"/>
<rect x="685.70" y="323.10" width="16.50" height="16.50" fill="#fff" stroke="#fcd2d6" stroke-width="1.3"/><text x="693.95" y="334.45" font-size="9.7" text-anchor="middle" fill="#1a1a1a" stroke="#1a1a1a" stroke-width="0.12">1</text>
<rect x="705.90" y="323.10" width="16.50" height="16.50" fill="#fff" stroke="#f0c6ef" stroke-width="1.3"/><text x="714.15" y="334.45" font-size="9.7" text-anchor="middle" fill="#1a1a1a" stroke="#1a1a1a" stroke-width="0.12">8</text>
<rect x="726.70" y="323.10" width="16.50" height="16.50" fill="#fff" stroke="#cdbff2" stroke-width="1.3"/><text x="734.95" y="334.45" font-size="9.7" text-anchor="middle" fill="#1a1a1a" stroke="#1a1a1a" stroke-width="0.12">6</text>
<rect x="746.60" y="323.10" width="16.50" height="16.50" fill="#fff" stroke="#cdbff2" stroke-width="1.3"/><text x="754.85" y="334.45" font-size="9.7" text-anchor="middle" fill="#1a1a1a" stroke="#1a1a1a" stroke-width="0.12">7</text>
<rect x="766.70" y="323.10" width="16.50" height="16.50" fill="#fff" stroke="#a7c4f2" stroke-width="1.3"/><text x="774.95" y="334.45" font-size="9.7" text-anchor="middle" fill="#1a1a1a" stroke="#1a1a1a" stroke-width="0.12">2</text>
<rect x="786.60" y="323.10" width="16.50" height="16.50" fill="#fff" stroke="#a7c4f2" stroke-width="1.3"/><text x="794.85" y="334.45" font-size="9.7" text-anchor="middle" fill="#1a1a1a" stroke="#1a1a1a" stroke-width="0.12">8</text>
<rect x="806.10" y="322.60" width="17.50" height="17.50" fill="#98e8d8"/><text x="814.85" y="334.45" font-size="9.7" text-anchor="middle" fill="#1a1a1a" stroke="#1a1a1a" stroke-width="0.12">C</text>
<rect x="827.00" y="322.60" width="17.50" height="17.50" fill="#98e8d8"/><text x="835.75" y="334.45" font-size="9.7" text-anchor="middle" fill="#1a1a1a" stroke="#1a1a1a" stroke-width="0.12">D</text>
<rect x="847.20" y="322.60" width="17.50" height="17.50" fill="#98e8d8"/><text x="855.95" y="334.45" font-size="9.7" text-anchor="middle" fill="#1a1a1a" stroke="#1a1a1a" stroke-width="0.12">E</text>
<rect x="867.10" y="322.60" width="17.50" height="17.50" fill="#aaf0bd"/><text x="875.85" y="334.45" font-size="9.7" text-anchor="middle" fill="#1a1a1a" stroke="#1a1a1a" stroke-width="0.12">B</text>
<path d="M392.2,101 V224.7" stroke="#111" stroke-width="1.65" fill="none" stroke-dasharray="5.2 3.2"/>
<path d="M396.2,101.9 H775" stroke="#111" stroke-width="1.65" fill="none" stroke-dasharray="5.4 2.9"/>
<path d="M392.2,224.7 V376.3" stroke="#111" stroke-width="1.65" fill="none" stroke-dasharray="5.4 5.8"/>
<path d="M396.2,378.4 H515" stroke="#111" stroke-width="1.65" fill="none" stroke-dasharray="5.4 5.8"/>
<path d="M380,224.7 H386" stroke="#111" stroke-width="1.8"/>
<path d="M632.1,140.9 H651" stroke="#111" stroke-width="1.65" fill="none" stroke-dasharray="5.4 5.8"/>
<path d="M655.9,140.1 V236" stroke="#111" stroke-width="1.65" fill="none" stroke-dasharray="5.4 5.8"/>
<path d="M659.1,238.2 H664.7" stroke="#111" stroke-width="1.65"/>
<path d="M670.3,238.2 H673" stroke="#111" stroke-width="1.65"/>
<path d="M678.3,238.2 L672,235 L672,241.4 Z" fill="#111"/>
<circle cx="785" cy="101.5" r="8.3" fill="#f3f3f3" stroke="#111" stroke-width="1.3"/>
<path d="M781,102.3 C782,99.3 784,100.3 785,101.5 S788,103.3 789,100.3" stroke="#111" stroke-width="1.4" fill="none"/>
<circle cx="525.5" cy="378.5" r="8.3" fill="#f3f3f3" stroke="#111" stroke-width="1.3"/>
<path d="M521.5,379.3 C522.5,376.3 524.5,377.3 525.5,378.5 S528.5,380.3 529.5,377.3" stroke="#111" stroke-width="1.4" fill="none"/>
<path d="M785,109.5 V118.5" stroke="#111" stroke-width="1.6"/>
<path d="M785,126.9 L781.5,119 L788.5,119 Z" fill="#111"/>
<path d="M525.5,370.5 V367" stroke="#111" stroke-width="1.6"/>
<path d="M525.5,362 V355.3" stroke="#111" stroke-width="1.6"/>
<path d="M525.5,347 L522,354 L529,354 Z" fill="#111"/>
<text x="844.6" y="93.3" font-size="10.7" text-anchor="middle" fill="#111" textLength="90.8" lengthAdjust="spacingAndGlyphs" stroke="#111" stroke-width="0.1">Randomly sample</text>
<text x="844.6" y="105.2" font-size="10.7" text-anchor="middle" fill="#111" textLength="89" lengthAdjust="spacingAndGlyphs" stroke="#111" stroke-width="0.1">a fixed number of</text>
<text x="844.6" y="117.1" font-size="10.7" text-anchor="middle" fill="#111" textLength="66" lengthAdjust="spacingAndGlyphs" font-style="italic" stroke="#111" stroke-width="0.1">target tokens</text>
<text x="591.4" y="365.0" font-size="10.7" text-anchor="middle" fill="#111" textLength="90.7" lengthAdjust="spacingAndGlyphs" stroke="#111" stroke-width="0.1">Randomly sample</text>
<text x="591.4" y="376.6" font-size="10.7" text-anchor="middle" fill="#111" textLength="88.8" lengthAdjust="spacingAndGlyphs" stroke="#111" stroke-width="0.1">a fixed number of</text>
<text x="591.4" y="388.2" font-size="10.7" text-anchor="middle" fill="#111" textLength="62" lengthAdjust="spacingAndGlyphs" font-style="italic" stroke="#111" stroke-width="0.1">input tokens</text>
<text x="785.15" y="371.3" font-size="10.7" text-anchor="middle" fill="#111" textLength="138" lengthAdjust="spacingAndGlyphs" stroke="#111" stroke-width="0.1">Mask tokens (for images) &amp;</text>
<text x="784.95" y="383.0" font-size="10.7" text-anchor="middle" fill="#111" textLength="172.2" lengthAdjust="spacingAndGlyphs" stroke="#111" stroke-width="0.1">left-shifted tokens (for sequences)</text>
</svg>
<div class="cl j" style="top:428.40px;left:124.10px;width:780.40px"><b>Method overview.</b> (Left): <span class="mono">4M</span> is a framework for training multimodal and multitask models</div>
<div class="cl j" style="top:452.40px">that operate on tokenized versions of multiple image-like modalities (such as RGB, depth, etc.) and</div>
<div class="cl j" style="top:476.40px">sequence modalities (such as captions and bounding boxes). (Right): The <span class="mono">4M</span> pre-training objective</div>
<div class="cl j" style="top:500.40px;width:874.00px">consists of training a Transformer encoder-decoder to predict a randomly selected subset of tokens,</div>
<div class="cl" style="top:524.40px;left:32.50px">which is sampled from all modalities, based on another random subset of tokens.</div>
</body></html>
